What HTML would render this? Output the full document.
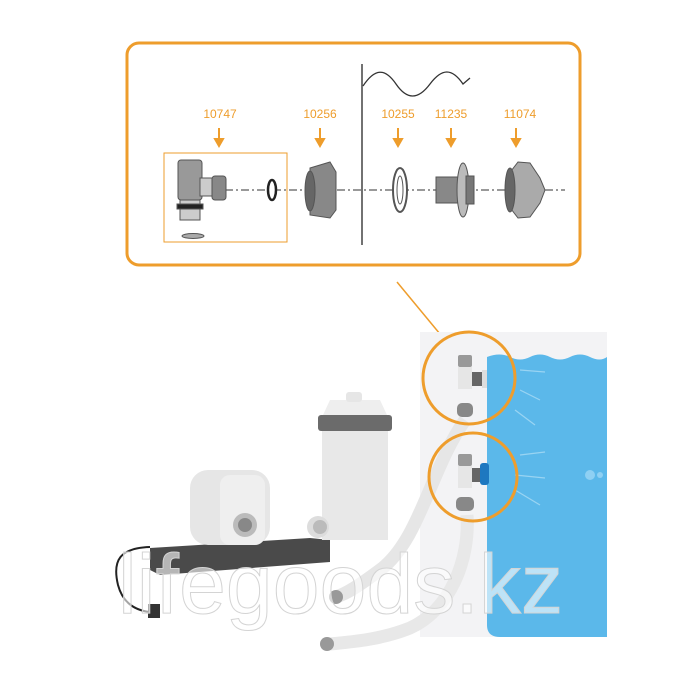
<!DOCTYPE html>
<html><head><meta charset="utf-8"><style>
html,body{margin:0;padding:0;background:#fff;}
svg{display:block}
</style></head><body>
<svg width="700" height="700" viewBox="0 0 700 700" xmlns="http://www.w3.org/2000/svg" font-family="Liberation Sans, sans-serif">
<rect x="127" y="43" width="453" height="222" rx="12" fill="#fff" stroke="#ee9d2c" stroke-width="3"/>
<g fill="#ee9d2c" font-size="12" text-anchor="middle">
<text x="220" y="118">10747</text>
<text x="320" y="118">10256</text>
<text x="398" y="118">10255</text>
<text x="451" y="118">11235</text>
<text x="520" y="118">11074</text>
</g>
<g stroke="#ee9d2c" stroke-width="2" fill="#ee9d2c">
<line x1="219" y1="128" x2="219" y2="140"/><polygon points="215,139 223,139 219,146"/>
<line x1="320" y1="128" x2="320" y2="140"/><polygon points="316,139 324,139 320,146"/>
<line x1="398" y1="128" x2="398" y2="140"/><polygon points="394,139 402,139 398,146"/>
<line x1="451" y1="128" x2="451" y2="140"/><polygon points="447,139 455,139 451,146"/>
<line x1="516" y1="128" x2="516" y2="140"/><polygon points="512,139 520,139 516,146"/>
</g>
<rect x="164" y="153" width="123" height="89" fill="none" stroke="#ee9d2c" stroke-width="1"/>
<line x1="362" y1="64" x2="362" y2="245" stroke="#444" stroke-width="1.5"/>
<path d="M363,86 C375,68 385,68 396,84 S418,100 430,84 S452,68 463,84 L470,78" fill="none" stroke="#333" stroke-width="1.3"/>
<line x1="225" y1="190" x2="565" y2="190" stroke="#333" stroke-width="1" stroke-dasharray="8,3,2,3"/>
<g stroke="#555" stroke-width="1" fill="#bbb">
<rect x="178" y="160" width="24" height="40" rx="3" fill="#999"/>
<rect x="180" y="200" width="20" height="20" fill="#ccc"/>
<rect x="177" y="204" width="26" height="5" fill="#222"/>
<rect x="200" y="178" width="14" height="18" fill="#ccc"/>
<rect x="212" y="176" width="14" height="24" rx="3" fill="#888"/>
<ellipse cx="193" cy="236" rx="11" ry="2.5" fill="#aaa"/>
<ellipse cx="272" cy="190" rx="4" ry="10" fill="#fff" stroke="#222" stroke-width="2.5"/>
<path d="M310,168 L330,162 L336,172 L336,210 L330,218 L310,215 Z" fill="#888"/>
<ellipse cx="310" cy="191" rx="5" ry="20" fill="#666"/>
<ellipse cx="400" cy="190" rx="7" ry="22" fill="#fff" stroke-width="2"/>
<ellipse cx="400" cy="190" rx="3" ry="14" fill="#fff"/>
<rect x="436" y="177" width="22" height="26" fill="#888"/>
<ellipse cx="463" cy="190" rx="6" ry="27" fill="#bbb"/>
<rect x="466" y="176" width="8" height="28" fill="#777"/>
<path d="M508,175 L518,162 L530,163 L540,178 L545,190 L540,203 L530,217 L518,218 L508,205 Z" fill="#aaa"/>
<ellipse cx="510" cy="190" rx="5" ry="22" fill="#666"/>
</g>
<line x1="397" y1="282" x2="440" y2="334" stroke="#ee9d2c" stroke-width="1.5"/>
<rect x="420" y="332" width="187" height="305" fill="#f3f3f5"/>
<path d="M487,357 Q500,352 510,357 T530,357 T550,357 T570,357 T590,357 T607,357 L607,637 L500,637 Q487,637 487,625 Z" fill="#5bb8ea"/>
<g stroke="#a9dbf5" stroke-width="1.2" fill="none" opacity="0.8">
<path d="M520,370 L545,372"/><path d="M520,390 L540,400"/><path d="M515,410 L535,425"/>
<path d="M520,455 L545,452"/><path d="M515,475 L545,478"/><path d="M515,490 L540,505"/>
</g>
<circle cx="590" cy="475" r="5" fill="#8fd0f3"/><circle cx="600" cy="475" r="3" fill="#8fd0f3"/>
<path d="M465,420 C430,470 420,540 380,570 C360,585 345,595 335,597" fill="none" stroke="#e6e6e6" stroke-width="13"/>
<path d="M467,515 C470,560 450,610 410,628 C380,640 350,642 330,644" fill="none" stroke="#e8e8e8" stroke-width="13"/>
<circle cx="336" cy="597" r="7" fill="#999"/><circle cx="327" cy="644" r="7" fill="#999"/>
<g>
<rect x="458" y="355" width="14" height="12" rx="2" fill="#999"/>
<rect x="458" y="367" width="14" height="22" fill="#e6e6e6"/>
<rect x="472" y="372" width="10" height="14" fill="#666"/>
<rect x="482" y="370" width="5" height="18" fill="#ddd"/>
<rect x="457" y="403" width="16" height="14" rx="5" fill="#888"/>
<rect x="458" y="454" width="14" height="12" rx="2" fill="#999"/>
<rect x="458" y="466" width="14" height="22" fill="#e6e6e6"/>
<rect x="472" y="468" width="8" height="14" fill="#666"/>
<rect x="480" y="463" width="9" height="22" rx="3" fill="#1e78c0"/>
<rect x="456" y="497" width="18" height="14" rx="5" fill="#888"/>
</g>
<circle cx="469" cy="378" r="46" fill="none" stroke="#ee9d2c" stroke-width="3"/>
<circle cx="473" cy="477" r="44" fill="none" stroke="#ee9d2c" stroke-width="3"/>
<path d="M150,548 L310,538 L330,540 L330,562 L160,575 L150,570 Z" fill="#4a4a4a"/>
<rect x="190" y="470" width="80" height="75" rx="18" fill="#e6e6e6"/>
<rect x="220" y="475" width="45" height="70" rx="10" fill="#efefef"/>
<circle cx="245" cy="525" r="12" fill="#bbb"/><circle cx="245" cy="525" r="7" fill="#888"/>
<rect x="322" y="425" width="66" height="115" fill="#e8e8e8"/>
<rect x="318" y="415" width="74" height="16" rx="3" fill="#6b6b6b"/>
<path d="M323,415 L330,400 L380,400 L387,415 Z" fill="#eee"/>
<rect x="346" y="392" width="16" height="10" rx="3" fill="#e6e6e6"/>
<circle cx="318" cy="527" r="11" fill="#ddd"/><circle cx="320" cy="527" r="7" fill="#bbb"/>
<path d="M150,547 C120,548 112,560 118,585 C122,600 132,610 150,612" fill="none" stroke="#222" stroke-width="2"/>
<rect x="148" y="604" width="12" height="14" fill="#333"/>
<text x="118" y="613" font-size="84" fill="#ffffff" fill-opacity="0.6" stroke="#d4d4d4" stroke-width="1" textLength="445">lifegoods.kz</text>
</svg>
</body></html>
